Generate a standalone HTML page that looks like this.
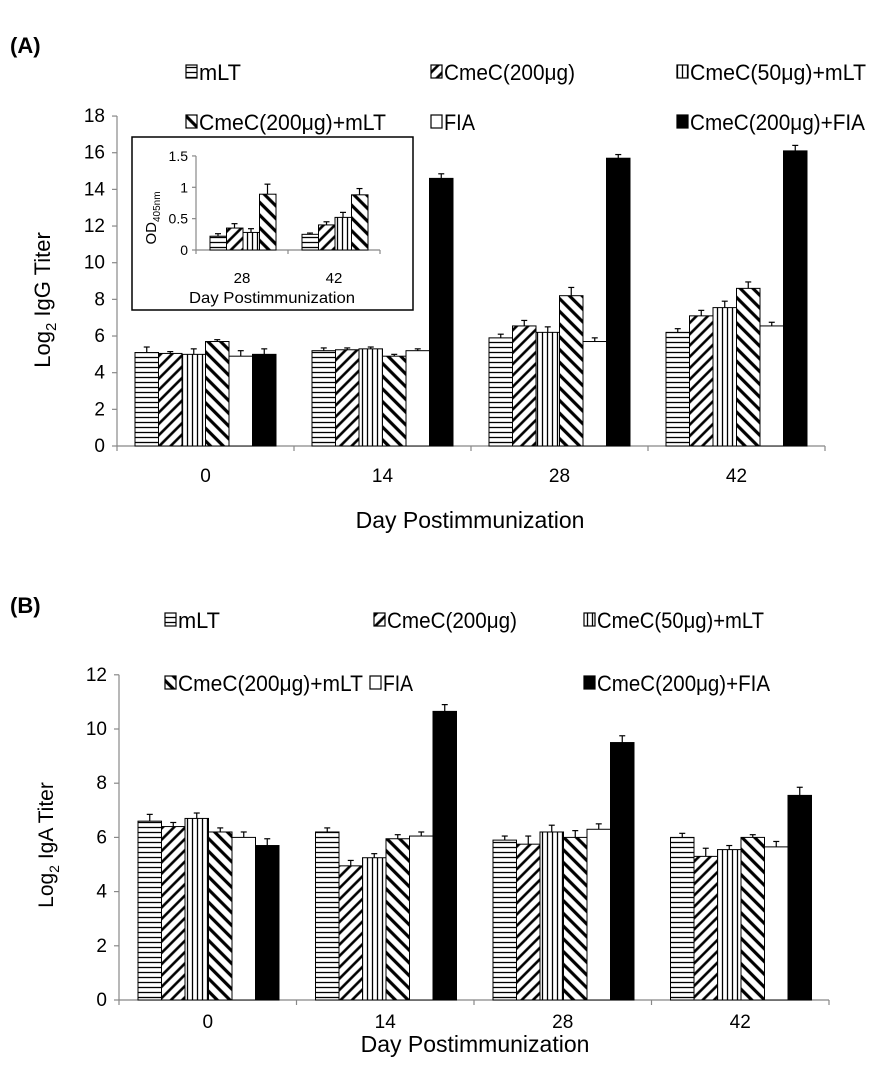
<!DOCTYPE html>
<html><head><meta charset="utf-8"><style>
html,body{margin:0;padding:0;background:#fff}
svg{display:block;font-family:"Liberation Sans",Arial,sans-serif}
</style></head><body>
<svg id="s" width="879" height="1078" viewBox="0 0 879 1078" xmlns="http://www.w3.org/2000/svg">
<defs>
<pattern id="ph" width="6" height="5" patternUnits="userSpaceOnUse"><rect width="6" height="5" fill="#fff"/><line x1="0" y1="2.5" x2="6" y2="2.5" stroke="#000" stroke-width="1.3"/></pattern>
<pattern id="pv" width="5" height="6" patternUnits="userSpaceOnUse"><rect width="5" height="6" fill="#fff"/><line x1="2.5" y1="0" x2="2.5" y2="6" stroke="#000" stroke-width="1.3"/></pattern>
<pattern id="pf" width="8" height="8" patternUnits="userSpaceOnUse" patternTransform="rotate(-45)"><rect width="8" height="8" fill="#fff"/><line x1="0" y1="4" x2="8" y2="4" stroke="#000" stroke-width="2.6"/></pattern>
<pattern id="pb" width="9" height="9" patternUnits="userSpaceOnUse" patternTransform="rotate(45)"><rect width="9" height="9" fill="#fff"/><line x1="0" y1="4.5" x2="9" y2="4.5" stroke="#000" stroke-width="3.2"/></pattern>
</defs>
<g id="g"></g>
</svg>
<script>
var g=document.getElementById('g'),h='';
var fills=['url(#ph)','url(#pf)','url(#pv)','url(#pb)','#fff','#000'];
function T(x,y,t,o){o=o||{};h+='<text x="'+x+'" y="'+y+'" font-size="'+(o.s||18)+'"'+(o.a?' text-anchor="'+o.a+'"':'')+(o.w?' font-weight="bold"':'')+(o.tl?' textLength="'+o.tl+'" lengthAdjust="spacingAndGlyphs"':'')+(o.tr?' transform="'+o.tr+'"':'')+'>'+t+'</text>';}
function L(x1,y1,x2,y2,c,w){h+='<line x1="'+x1+'" y1="'+y1+'" x2="'+x2+'" y2="'+y2+'" stroke="'+(c||'#888')+'" stroke-width="'+(w||1.2)+'"/>';}
function chart(ax,y0,ppu,xEnd,ymax,step,gw,bx0,bw,data,errs,lblX,lblY,fs){
  L(ax,y0-ymax*ppu,ax,y0);L(ax,y0,xEnd,y0);
  for(var v=0;v<=ymax+1e-9;v+=step){var y=y0-v*ppu;L(ax-5,y,ax,y);T(ax-12,y+6,+v.toFixed(1),{a:'end',s:fs});}
  for(var k=0;k<=data.length;k++){var x=ax+k*gw;L(x,y0,x,y0+5);}
  for(var k=0;k<data.length;k++){
    for(var i=0;i<data[k].length;i++){
      var x=ax+k*gw+bx0+i*bw,v=data[k][i],y=y0-v*ppu,e=errs[k][i]*ppu;
      h+='<rect x="'+x+'" y="'+y+'" width="'+bw+'" height="'+(v*ppu)+'" fill="'+fills[i]+'" stroke="#000" stroke-width="1"/>';
      L(x+bw/2,y,x+bw/2,y-e,'#000',1.2);L(x+bw/2-3,y-e,x+bw/2+3,y-e,'#000',1.2);
    }
    if(lblX)T(ax+k*gw+gw/2,y0+lblY,lblX[k],{a:'middle',s:fs});
  }
}
function leg(x,y,i,t,w){h+='<rect x="'+x+'" y="'+(y-15)+'" width="11" height="13" fill="'+fills[i]+'" stroke="#000" stroke-width="1.2"/>';T(x+13,y,t,{s:22,tl:w});}
/* Panel A */
T(10,53,'(A)',{s:22,w:1});
leg(186,80,0,'mLT',42);leg(431,80,1,'CmeC(200μg)',131);leg(677,80,2,'CmeC(50μg)+mLT',176);
leg(186,130,3,'CmeC(200μg)+mLT',187);leg(431,130,4,'FIA',31);leg(677,130,5,'CmeC(200μg)+FIA',175);
chart(117,446,18.33,825,18,2,177,18,23.5,
 [[5.1,5.05,5.0,5.7,4.9,5.0],[5.2,5.25,5.3,4.9,5.2,14.6],[5.9,6.55,6.2,8.2,5.7,15.7],[6.2,7.1,7.55,8.6,6.55,16.1]],
 [[.3,.1,.3,.1,.3,.3],[.15,.1,.1,.1,.1,.25],[.2,.3,.3,.45,.2,.2],[.2,.3,.35,.35,.2,.3]],
 ['0','14','28','42'],36,19);
T(470,528,'Day Postimmunization',{a:'middle',s:23});
T(0,0,'Log<tspan font-size="15" dy="6">2</tspan><tspan dy="-6">  IgG Titer</tspan>',{a:'middle',s:22,tr:'translate(50,300) rotate(-90)'});
/* inset */
h+='<rect x="132" y="137" width="281" height="173" fill="#fff" stroke="#000" stroke-width="1.5"/>';
(function(){var ax=196,y0=250,p=62.7;L(ax,y0-1.5*p,ax,y0);L(ax,y0,380,y0);
 [0,0.5,1,1.5].forEach(function(v){var y=y0-v*p;L(ax-4,y,ax,y);T(ax-8,y+5,v,{a:'end',s:14});});
 [196,288,380].forEach(function(x){L(x,y0,x,y0+4);});
 var d=[[0.22,0.35,0.28,0.89],[0.25,0.4,0.52,0.88]],e=[[.04,.07,.06,.16],[.02,.05,.08,.1]];
 for(var k=0;k<2;k++){for(var i=0;i<4;i++){var x=ax+k*92+14+i*16.5,v=d[k][i],y=y0-v*p,er=e[k][i]*p;
  h+='<rect x="'+x+'" y="'+y+'" width="16.5" height="'+(v*p)+'" fill="'+fills[i]+'" stroke="#000" stroke-width="1"/>';
  L(x+8,y,x+8,y-er,'#000',1.2);L(x+5,y-er,x+11,y-er,'#000',1.2);}
  T(ax+k*92+46,283,['28','42'][k],{a:'middle',s:15});}
 T(272,303,'Day Postimmunization',{a:'middle',s:16,tl:166});
 T(0,0,'OD<tspan font-size="10" dy="4">405nm</tspan>',{a:'middle',s:15,tr:'translate(156,218) rotate(-90)'});
})();
/* Panel B */
T(10,613,'(B)',{s:22,w:1});
leg(165,628,0,'mLT',42);leg(374,628,1,'CmeC(200μg)',130);leg(584,628,2,'CmeC(50μg)+mLT',167);
leg(165,691,3,'CmeC(200μg)+mLT',185);leg(370,691,4,'FIA',30);leg(584,691,5,'CmeC(200μg)+FIA',173);
chart(119,1000,27.1,829,12,2,177.5,19,23.5,
 [[6.6,6.4,6.7,6.2,6.0,5.7],[6.2,4.95,5.25,5.95,6.05,10.65],[5.9,5.75,6.2,6.0,6.3,9.5],[6.0,5.3,5.55,6.0,5.65,7.55]],
 [[.25,.15,.2,.15,.2,.25],[.15,.2,.15,.15,.15,.25],[.15,.3,.25,.25,.2,.25],[.15,.3,.15,.1,.2,.3]],
 ['0','14','28','42'],28,19);
T(475,1052,'Day Postimmunization',{a:'middle',s:23});
T(0,0,'Log<tspan font-size="14" dy="6">2</tspan><tspan dy="-6"> IgA Titer</tspan>',{a:'middle',s:21,tr:'translate(53,845) rotate(-90)'});
g.innerHTML=h;
</script>
</body></html>
